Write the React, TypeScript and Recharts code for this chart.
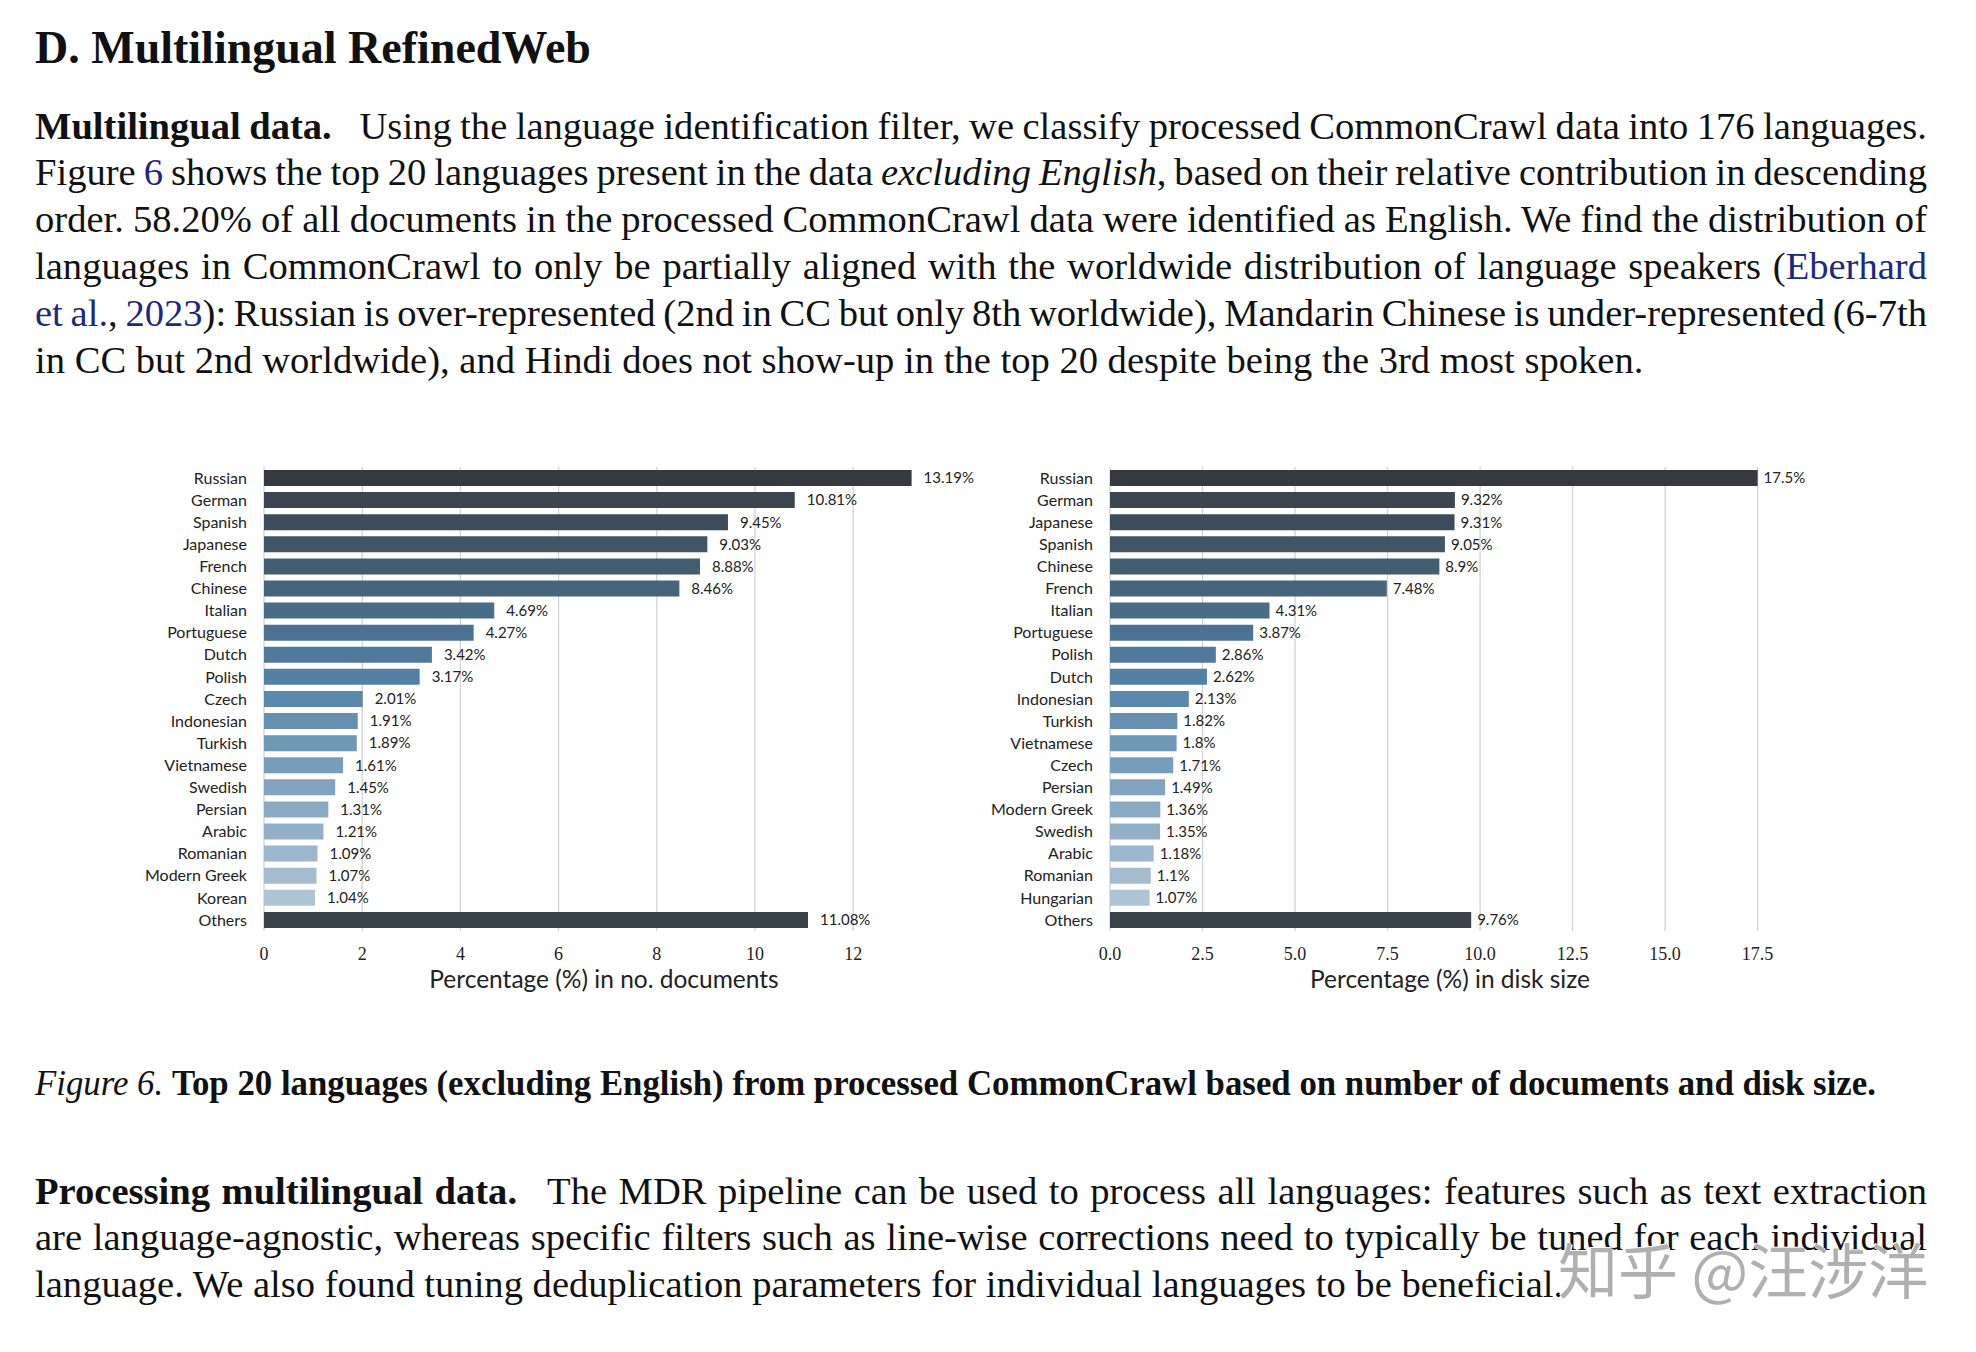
import { BarChart, Bar, Cell, XAxis, YAxis, CartesianGrid, LabelList } from 'recharts';

const DOC_LANGS = [
  'Russian', 'German', 'Spanish', 'Japanese', 'French', 'Chinese', 'Italian',
  'Portuguese', 'Dutch', 'Polish', 'Czech', 'Indonesian', 'Turkish', 'Vietnamese',
  'Swedish', 'Persian', 'Arabic', 'Romanian', 'Modern Greek', 'Korean', 'Others',
];
const DOC_PCT = [
  13.19, 10.81, 9.45, 9.03, 8.88, 8.46, 4.69, 4.27, 3.42, 3.17, 2.01, 1.91, 1.89,
  1.61, 1.45, 1.31, 1.21, 1.09, 1.07, 1.04, 11.08,
];
const DOC_TICKS = [0, 2, 4, 6, 8, 10, 12];

const DISK_LANGS = [
  'Russian', 'German', 'Japanese', 'Spanish', 'Chinese', 'French', 'Italian',
  'Portuguese', 'Polish', 'Dutch', 'Indonesian', 'Turkish', 'Vietnamese', 'Czech',
  'Persian', 'Modern Greek', 'Swedish', 'Arabic', 'Romanian', 'Hungarian', 'Others',
];
const DISK_PCT = [
  17.5, 9.32, 9.31, 9.05, 8.9, 7.48, 4.31, 3.87, 2.86, 2.62, 2.13, 1.82, 1.8,
  1.71, 1.49, 1.36, 1.35, 1.18, 1.1, 1.07, 9.76,
];
const DISK_TICKS = [0, 2.5, 5, 7.5, 10, 12.5, 15, 17.5];

const BAR_COLORS = [
  '#363a40', '#3b4651', '#3e4d5c', '#405566', '#435d71', '#46647c', '#496c87',
  '#4c7391', '#4f7a9b', '#5381a4', '#5c89ab', '#6690b1', '#6f97b6', '#789dba',
  '#81a3bf', '#8aa9c3', '#93afc7', '#9cb6cb', '#a5bccf', '#aec3d4', '#3a424a',
];

const SERIF = '"Liberation Serif", "Times New Roman", serif';
const SANS = 'Lato, "Open Sans", sans-serif';
const LINK = '#1b2a80';
const INK = '#111';

const docData = DOC_LANGS.map((name, i) => ({ name, value: DOC_PCT[i] }));
const diskData = DISK_LANGS.map((name, i) => ({ name, value: DISK_PCT[i] }));

interface PanelProps {
  data: { name: string; value: number }[];
  domain: [number, number];
  ticks: number[];
  tickFormat: (v: number) => string;
  title: string;
  labelOffset: number;
  left: number;
}

function Panel({ data, domain, ticks, tickFormat, title, labelOffset, left }: PanelProps) {
  return (
    <div style={{ position: 'absolute', left, top: 457 }}>
      <BarChart
        width={910}
        height={536}
        data={data}
        layout="vertical"
        margin={{ top: 10, right: 70, bottom: 0, left: 0 }}
        barSize={16}
      >
        <CartesianGrid horizontal={false} syncWithTicks stroke="#d2d2d2" strokeWidth={1.3} />
        <XAxis
          type="number"
          domain={domain}
          ticks={ticks}
          interval={0}
          allowDataOverflow
          tickFormatter={tickFormat}
          axisLine={false}
          tickLine={false}
          tickMargin={10}
          height={62}
          tick={{ fontFamily: SERIF, fontSize: 18, fill: '#222' }}
          label={{
            value: title,
            position: 'insideBottom',
            offset: 5.5,
            fontFamily: SANS,
            fontSize: 24.5,
            fill: '#222',
          }}
        />
        <YAxis
          type="category"
          dataKey="name"
          width={160}
          interval={0}
          axisLine={false}
          tickLine={false}
          tickMargin={11}
          tick={{ fontFamily: SANS, fontSize: 16, fill: '#222' }}
        />
        <Bar dataKey="value" isAnimationActive={false}>
          {data.map((d, i) => (
            <Cell key={d.name} fill={BAR_COLORS[i]} />
          ))}
          <LabelList
            dataKey="value"
            position="right"
            offset={labelOffset}
            formatter={(v: number) => `${v}%`}
            fontFamily={SANS}
            fontSize={15}
            fill="#222"
          />
        </Bar>
      </BarChart>
    </div>
  );
}

function Line({ top, last, children }: { top: number; last?: boolean; children: React.ReactNode }) {
  return (
    <div
      style={{
        position: 'absolute',
        left: 35,
        top,
        width: 1892,
        fontFamily: SERIF,
        fontSize: 38.6,
        lineHeight: '46.8px',
        textAlign: 'justify',
        textAlignLast: last ? 'left' : 'justify',
        wordSpacing: last ? 0 : '-5px',
        color: INK,
      }}
    >
      {children}
    </div>
  );
}

export default function App() {
  return (
    <div
      style={{
        position: 'absolute',
        left: 0,
        top: 0,
        width: 1976,
        height: 1352,
        background: '#fff',
        overflow: 'hidden',
      }}
    >
      <div
        style={{
          position: 'absolute',
          left: 35,
          top: 19.5,
          fontFamily: SERIF,
          fontSize: 46,
          lineHeight: '56px',
          fontWeight: 'bold',
          color: INK,
        }}
      >
        D. Multilingual RefinedWeb
      </div>

      <Line top={102.5}>
        <b style={{ marginRight: '0.5em' }}>Multilingual data.</b> Using the language identification
        filter, we classify processed CommonCrawl data into 176 languages.
      </Line>
      <Line top={149.3}>
        Figure <span style={{ color: LINK }}>6</span> shows the top 20 languages present in the data{' '}
        <i>excluding English</i>, based on their relative contribution in descending
      </Line>
      <Line top={196.1}>
        order. 58.20% of all documents in the processed CommonCrawl data were identified as English. We
        find the distribution of
      </Line>
      <Line top={242.9}>
        languages in CommonCrawl to only be partially aligned with the worldwide distribution of language
        speakers (<span style={{ color: LINK }}>Eberhard</span>
      </Line>
      <Line top={289.7}>
        <span style={{ color: LINK }}>et al.</span>, <span style={{ color: LINK }}>2023</span>): Russian is
        over-represented (2nd in CC but only 8th worldwide), Mandarin Chinese is under-represented
        (6-7th
      </Line>
      <Line top={336.5} last>
        in CC but 2nd worldwide), and Hindi does not show-up in the top 20 despite being the 3rd most
        spoken.
      </Line>

      <Panel
        data={docData}
        domain={[0, 13.85]}
        ticks={DOC_TICKS}
        tickFormat={(v) => String(v)}
        title="Percentage (%) in no. documents"
        labelOffset={12}
        left={104}
      />
      <Panel
        data={diskData}
        domain={[0, 18.375]}
        ticks={DISK_TICKS}
        tickFormat={(v) => v.toFixed(1)}
        title="Percentage (%) in disk size"
        labelOffset={6}
        left={950}
      />

      <div
        style={{
          position: 'absolute',
          left: 35,
          top: 1063,
          fontFamily: SERIF,
          fontSize: 34.8,
          lineHeight: '42px',
          color: INK,
          whiteSpace: 'nowrap',
        }}
      >
        <i>Figure 6.</i>{' '}
        <b>Top 20 languages (excluding English) from processed CommonCrawl based on number of documents and disk size.</b>
      </div>

      <Line top={1167.5}>
        <b style={{ marginRight: '0.5em' }}>Processing multilingual data.</b> The MDR pipeline can be
        used to process all languages: features such as text extraction
      </Line>
      <Line top={1214.3}>
        are language-agnostic, whereas specific filters such as line-wise corrections need to typically be
        tuned for each individual
      </Line>
      <Line top={1261.1} last>
        language. We also found tuning deduplication parameters for individual languages to be beneficial.
      </Line>

      <div
        style={{
          position: 'absolute',
          left: 1558,
          top: 1238,
          fontFamily: '"Noto Sans CJK SC", sans-serif',
          fontSize: 60,
          lineHeight: '60px',
          color: 'rgba(150,150,150,0.75)',
          textShadow: '1px 1px 0 #fff, -1px -1px 0 #fff',
          whiteSpace: 'nowrap',
        }}
      >
        知乎 @汪涉洋
      </div>
    </div>
  );
}
